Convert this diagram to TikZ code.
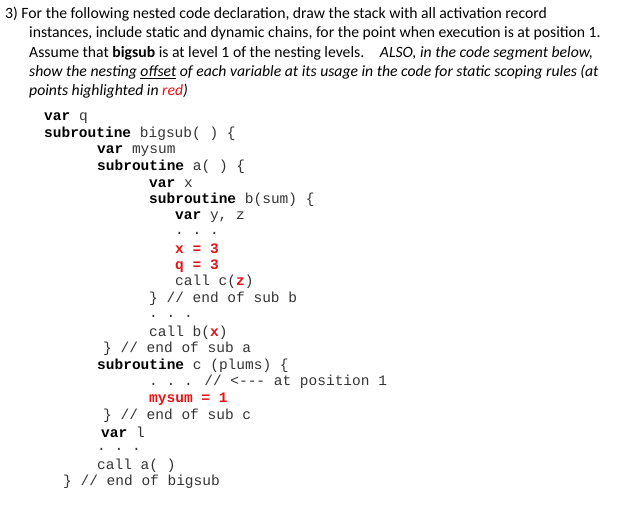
\documentclass[tikz,border=0pt]{standalone}
\usepackage{fontspec}
\setmainfont{Carlito}
\newfontfamily\codef{Liberation Mono}
\definecolor{hl}{RGB}{230,20,20}
\begin{document}
\begin{tikzpicture}[x=1pt,y=-1pt,
 para/.style={anchor=west,inner sep=0,font=\fontsize{15.7}{18}\selectfont},
 code/.style={anchor=west,inner sep=0,font=\codef\fontsize{14.5}{16}\selectfont,text=black!80}]
\useasboundingbox (0,0) rectangle (630,505);
\node[para] (p1) at (5,14) {3) For the following nested code declaration, draw the stack with all activation record};
\node[para] (p2) at (29,33) {instances, include static and dynamic chains, for the point when execution is at position 1.};
\node[para] (p3) at (29,53) {Assume that \textbf{bigsub} is at level 1 of the nesting levels.\quad \textit{ALSO, in the code segment below,}};
\node[para] (p4) at (29,72) {\textit{show the nesting \underline{offset} of each variable at its usage in the code for static scoping rules (at}};
\node[para] (p5) at (29,91) {\textit{points highlighted in \textcolor{hl}{red})}};
\def\kw#1{\textbf{\textcolor{black}{#1}}}
\def\rd#1{\textbf{\textcolor{hl}{#1}}}
\node[code] (c1) at (44,118) {\kw{var} q};
\node[code] (c2) at (44,134) {\kw{subroutine} bigsub( ) \{};
\node[code] (c3) at (97,151) {\kw{var} mysum};
\node[code] (c4) at (97,167) {\kw{subroutine} a( ) \{};
\node[code] (c5) at (149,184) {\kw{var} x};
\node[code] (c6) at (149,200) {\kw{subroutine} b(sum) \{};
\node[code] (c7) at (175,217) {\kw{var} y, z};
\node[code] (c8) at (175,233) {.\ .\ .};
\node[code] (c9) at (175,249) {\rd{x = 3}};
\node[code] (c10) at (175,266) {\rd{q = 3}};
\node[code] (c11) at (175,282) {call c(\rd{z})};
\node[code] (c12) at (149,299) {\} // end of sub b};
\node[code] (c13) at (149,316) {.\ .\ .};
\node[code] (c14) at (149,333) {call b(\rd{x})};
\node[code] (c15) at (103,349) {\} // end of sub a};
\node[code] (c16) at (97,366) {\kw{subroutine} c (plums) \{};
\node[code] (c17) at (149,382) {.\ .\ . // <--- at position 1};
\node[code] (c18) at (149,399) {\rd{mysum = 1}};
\node[code] (c19) at (103,416) {\} // end of sub c};
\node[code] (c20) at (101,432) {\kw{var} l};
\node[code] (c21) at (97,449) {.\ .\ .};
\node[code] (c22) at (97,466) {call a( )};
\node[code] (c23) at (63,482) {\} // end of bigsub};
\end{tikzpicture}
\end{document}
